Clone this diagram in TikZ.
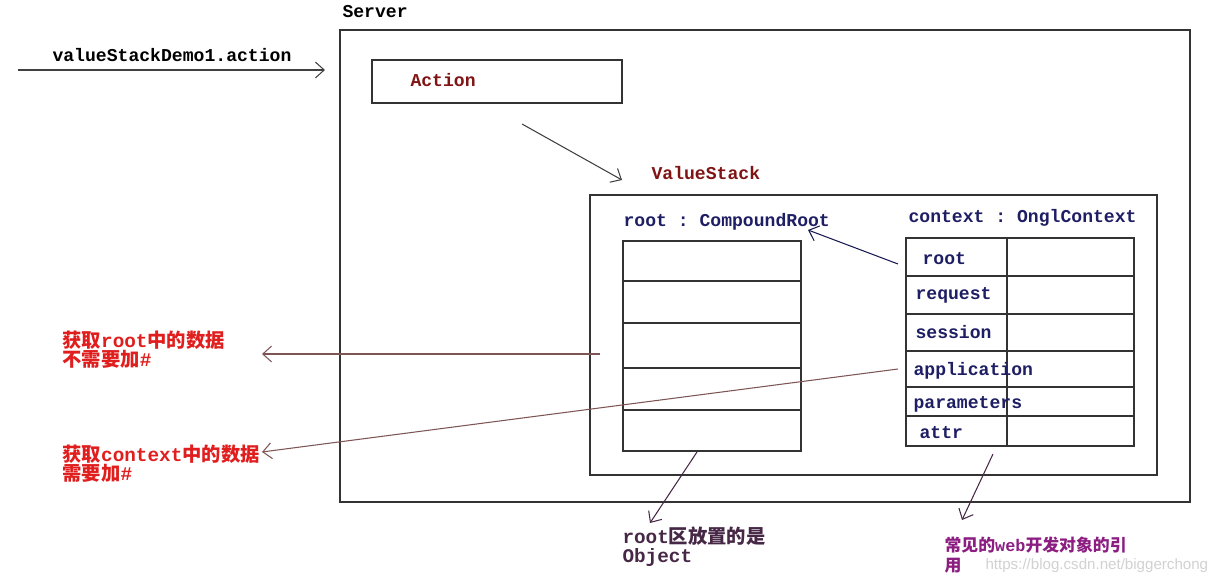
\documentclass[tikz,border=0pt]{standalone}
\usepackage{fontspec}
\setmonofont{Liberation Mono}
\setsansfont{Liberation Sans}
\newfontfamily\cjk{Noto Sans CJK SC}
\usetikzlibrary{arrows.meta}
\definecolor{actred}{RGB}{128,20,20}
\definecolor{navytext}{RGB}{30,30,100}
\definecolor{notered}{RGB}{225,30,30}
\definecolor{notepurple}{RGB}{140,30,130}
\definecolor{darkpurple}{RGB}{70,40,70}
\definecolor{linebrown}{RGB}{125,85,85}
\newcommand{\lat}[1]{{\ttfamily\bfseries #1}}
\begin{document}
\begin{tikzpicture}[x=0.02cm, y=-0.02cm, line width=0.6pt, >={Straight Barb[length=5pt,width=9pt]},
  box/.style={draw=black!80, line width=0.65pt},
  mono/.style={font=\ttfamily\bfseries\fontsize{10.3}{12}\selectfont, inner sep=0pt, anchor=west},
  note/.style={font=\cjk\bfseries\fontsize{11}{11}\selectfont, inner sep=0pt, anchor=west, align=left},
  smallnote/.style={font=\cjk\bfseries\fontsize{9.6}{11.4}\selectfont, inner sep=0pt, anchor=west, align=left}]
\useasboundingbox (0,0) rectangle (1223,580);
% boxes
\draw[box] (340,30) rectangle (1190,502);
\draw[box] (372,60) rectangle (622,103);
\draw[box] (590,195) rectangle (1157,475);
\draw[box] (623,241) rectangle (801,451);
\foreach \y in {281,323,368,410} \draw[box] (623,\y) -- (801,\y);
\draw[box] (906,238) rectangle (1134,446);
\draw[box] (1007,238) -- (1007,446);
\foreach \y in {276,314,351,387,416} \draw[box] (906,\y) -- (1134,\y);
\begin{scope}
\node[mono] (url) at (52,55) {valueStackDemo1.action};
\node[mono] (server) at (342,12) {Server};
\node[mono, text=actred] (action) at (410,80) {Action};
\node[mono, text=actred] (vs) at (651,173) {ValueStack};
\node[mono, text=navytext] (rootlbl) at (623,222) {root : CompoundRoot};
\node[mono, text=navytext] (ctxlbl) at (908,218) {context : OnglContext};
\foreach \x/\y/\t/\n in {922/259/root/r, 915/295/request/q, 915/332/session/s, 913/371/application/a, 913/404/parameters/p, 919/433/attr/t}
  \node[mono, text=navytext] (ctx-\n) at (\x,\y) {\t};
\node[note, text=notered] (getroot) at (62,350) {获取\lat{root}中的数据\\不需要加\lat{\#}};
\node[note, text=notered] (getctx) at (62,464) {获取\lat{context}中的数据\\需要加\lat{\#}};
\node[note, text=darkpurple] (objnote) at (622,547) {\lat{root}区放置的是\\\lat{Object}};
\node[smallnote, text=notepurple] (webnote) at (944,555) {常见的\lat{web}开发对象的引\\用};
\node[anchor=west, inner sep=0pt, text=black!18, font=\sffamily\fontsize{8.6}{10}\selectfont] (wm) at (985,566) {https://blog.csdn.net/biggerchong};
\end{scope}
% arrow ends
\coordinate (in) at (18,70);
\coordinate (inend) at (325,70);
\coordinate (actout) at (522,124);
\coordinate (vsin) at (622,180);
\coordinate (ctxroot) at (898,264);
\coordinate (rootend) at (808,230);
\coordinate (stackout) at (600,354);
\coordinate (rootnote) at (262,354);
\coordinate (appout) at (898,369);
\coordinate (ctxnote) at (262,452);
\coordinate (stackbot) at (697,452);
\coordinate (objend) at (650,523);
\coordinate (tablebot) at (993,454);
\coordinate (webend) at (962,520);
\begin{scope}[every edge/.style={draw=black!75, line width=0.6pt, ->}]
\path (in) edge (inend);
\path (actout) edge (vsin);
\path (ctxroot) edge[draw=navytext!80!black] (rootend);
\path (stackout) edge[draw=linebrown] (rootnote);
\path (appout) edge[draw=linebrown] (ctxnote);
\path (stackbot) edge[draw=darkpurple] (objend);
\path (tablebot) edge[draw=darkpurple] (webend);
\end{scope}
\end{tikzpicture}
\end{document}
